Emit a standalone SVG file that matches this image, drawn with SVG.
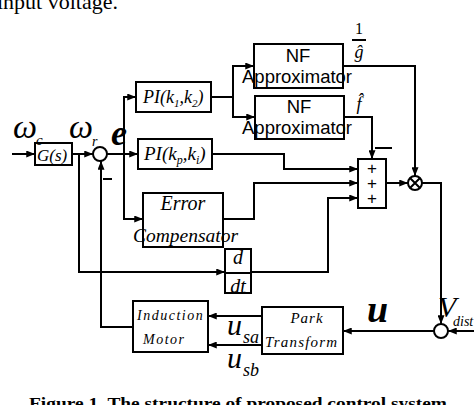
<svg xmlns="http://www.w3.org/2000/svg" width="474" height="405" viewBox="0 0 474 405">
<defs>
<marker id="ah" viewBox="0 0 10 8" refX="10" refY="4" markerWidth="10" markerHeight="7" markerUnits="userSpaceOnUse" orient="auto">
<path d="M0,0 L10,4 L0,8 z" fill="#000"/>
</marker>
<style>
.box{fill:#fff;stroke:#000;stroke-width:2}
.ln{fill:none;stroke:#000;stroke-width:2}
.ar{fill:none;stroke:#000;stroke-width:2;marker-end:url(#ah)}
.si{font-family:"Liberation Serif",serif;font-style:italic;fill:#000}
.ss{font-family:"Liberation Sans",Arial,sans-serif;fill:#000}
</style>
</defs>
<rect width="474" height="405" fill="#fff"/>
<text x="-3" y="9" font-family="Liberation Serif,serif" font-size="22">input voltage.</text>

<g id="connectors">
<path class="ar" d="M12,154 L35,154"/>
<path class="ar" d="M72,154 L93,154"/>
<path class="ar" d="M79,154 L79,272 L225,272"/>
<path class="ar" d="M107,154 L138,154"/>
<path class="ar" d="M124,154 L124,97 L136,97"/>
<path class="ar" d="M124,154 L124,219 L143,219"/>
<path class="ln" d="M211,97 L233,97"/>
<path class="ar" d="M233,97 L233,66 L254,66"/>
<path class="ar" d="M233,97 L233,117 L255,117"/>
<path class="ar" d="M343,66 L415,66 L415,176"/>
<path class="ar" d="M344,117 L372,117 L372,159"/>
<path class="ar" d="M212,154 L284,154 L284,169 L358,169"/>
<path class="ar" d="M223,219 L254,219 L254,183 L358,183"/>
<path class="ar" d="M251,272 L328,272 L328,198 L358,198"/>
<path class="ar" d="M386,183 L408,183"/>
<path class="ar" d="M422,183 L441,183 L441,324"/>
<path class="ar" d="M474,331 L448,331"/>
<path class="ar" d="M434,331 L343,331"/>
<path class="ar" d="M262,316 L208,316"/>
<path class="ar" d="M262,345 L208,345"/>
<path class="ar" d="M133,327 L101,327 L101,161"/>
<path class="ln" d="M103,179 L112,179"/>
<path class="ln" d="M375,148 L392,148"/>
</g>

<g id="G">
<rect class="box" x="35" y="143" width="37" height="22"/>
<text class="si" x="37" y="161" font-size="17">G(s)</text>
</g>

<g id="sum1">
<circle class="box" cx="100" cy="154" r="7"/>
</g>

<g id="PI12">
<rect class="box" x="136" y="82" width="75" height="30"/>
<text class="si" x="143" y="103" font-size="18">PI(k<tspan font-size="11" dy="4">1</tspan><tspan dy="-4">,k</tspan><tspan font-size="11" dy="4">2</tspan><tspan dy="-4">)</tspan></text>
</g>

<g id="PIpi">
<rect class="box" x="138" y="139" width="74" height="30"/>
<text class="si" x="144" y="160" font-size="19">PI(k<tspan font-size="12" dy="4">p</tspan><tspan dy="-4">,k</tspan><tspan font-size="12" dy="4">i</tspan><tspan dy="-4">)</tspan></text>
</g>

<g id="NF1">
<rect class="box" x="254" y="44" width="89" height="44"/>
<text class="ss" x="298" y="62" font-size="18.5" text-anchor="middle">NF</text>
<text class="ss" x="242" y="83" font-size="18.5">Approximator</text>
</g>

<g id="NF2">
<rect class="box" x="255" y="96" width="89" height="43"/>
<text class="ss" x="299" y="113" font-size="18.5" text-anchor="middle">NF</text>
<text class="ss" x="242" y="134" font-size="18.5">Approximator</text>
</g>

<g id="errcomp">
<rect class="box" x="143" y="193" width="80" height="54"/>
<text class="si" x="183" y="210" font-size="20" text-anchor="middle">Error</text>
<text class="si" x="133" y="242" font-size="19.5">Compensator</text>
</g>

<g id="ddt">
<rect class="box" x="225" y="249" width="26" height="44"/>
<path class="ln" d="M225,273 L251,273"/>
<text class="si" x="238" y="264" font-size="20" text-anchor="middle">d</text>
<text class="si" x="238" y="293" font-size="20" text-anchor="middle">dt</text>
</g>

<g id="sumbox">
<rect class="box" x="358" y="159" width="28" height="49"/>
<text class="ss" x="372" y="174" font-size="17" text-anchor="middle">+</text>
<text class="ss" x="372" y="189" font-size="17" text-anchor="middle">+</text>
<text class="ss" x="372" y="204" font-size="17" text-anchor="middle">+</text>
</g>

<g id="mult">
<circle class="box" cx="415" cy="183" r="7"/>
<path class="ln" d="M410,178 L420,188 M420,178 L410,188" stroke-width="1.6"/>
</g>

<g id="sum2">
<circle class="box" cx="441" cy="331" r="7"/>
</g>

<g id="park">
<rect class="box" x="262" y="307" width="81" height="47"/>
<text class="si" x="307" y="323" font-size="15" letter-spacing="1" text-anchor="middle">Park</text>
<text class="si" x="265" y="347" font-size="15" letter-spacing="1.2">Transform</text>
</g>

<g id="motor">
<rect class="box" x="133" y="301" width="75" height="51"/>
<text class="si" x="137" y="320" font-size="14" letter-spacing="1.5">Induction</text>
<text class="si" x="143" y="344" font-size="14" letter-spacing="1.5">Motor</text>
</g>

<g id="labels">
<text class="si" x="13" y="138" font-size="34">ω</text>
<text class="si" x="36" y="145" font-size="15">c</text>
<text class="si" x="69" y="138" font-size="34">ω</text>
<text class="si" x="92" y="146" font-size="14">r</text>
<text class="si" x="111" y="145" font-size="36" font-weight="bold">e</text>
<text class="si" x="359" y="34" font-size="16" style="font-style:normal" text-anchor="middle">1</text>
<path class="ln" d="M352,40 L366,40" stroke-width="1.2"/>
<text class="si" x="359" y="58" font-size="18" text-anchor="middle">ĝ</text>
<text class="si" x="359" y="110" font-size="18" text-anchor="middle">f̂</text>
<text class="si" x="367" y="322" font-size="38" font-weight="bold">u</text>
<text class="si" x="438" y="317" font-size="30">V</text>
<text class="si" x="453" y="326" font-size="14">dist</text>
<text class="si" x="227" y="335" font-size="30">u</text>
<text class="si" x="243" y="343" font-size="18">sa</text>
<text class="si" x="227" y="368" font-size="30">u</text>
<text class="si" x="243" y="376" font-size="18">sb</text>
</g>

<text x="29" y="409" font-family="Liberation Serif,serif" font-weight="bold" font-size="16" textLength="418" lengthAdjust="spacingAndGlyphs">Figure 1. The structure of proposed control system</text>
</svg>
